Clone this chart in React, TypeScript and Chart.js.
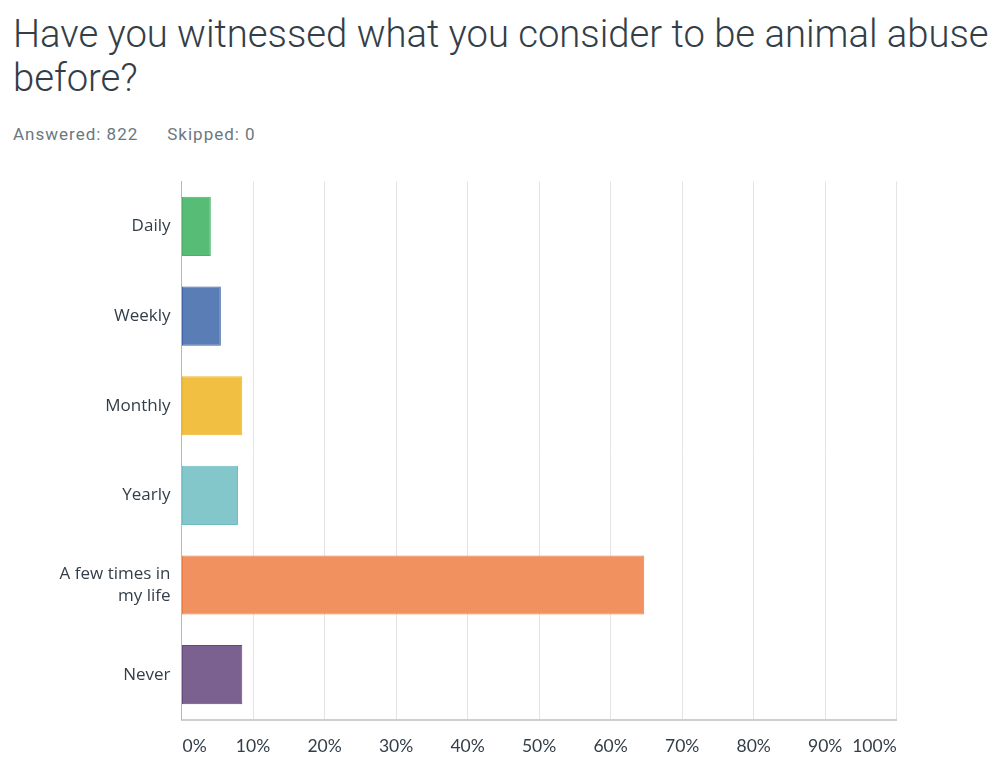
import React, { useEffect, useRef } from "react";
import { Chart, registerables } from "chart.js";

Chart.register(...registerables);

const titleLines = ["Have you witnessed what you consider to be animal abuse", "before?"];
const answeredText = "Answered: 822";
const skippedText = "Skipped: 0";

const categories: (string | string[])[] = ["Daily", "Weekly", "Monthly", "Yearly", ["A few times in", "my life"], "Never"];
const values = [4.1, 5.5, 8.5, 7.9, 64.7, 8.5];
const fillColors = ["#57bd76", "#5a7db6", "#f1c043", "#83c7cb", "#f1915f", "#7a6190"];
const borderColors = ["#4cb06a", "#3f63a6", "#eab532", "#6fbcc1", "#ec7f48", "#634b7c"];
const tickStep = 10;
const tickMax = 100;

const xLabelPlugin = {
  id: "xLabels",
  afterDraw(chart: any) {
    const scale = chart.scales.x;
    const ctx = chart.ctx;
    ctx.save();
    ctx.font = "17.5px Lato";
    ctx.fillStyle = "#333e48";
    ctx.textBaseline = "middle";
    const ticks = scale.ticks;
    const y = chart.chartArea.bottom + 27;
    ticks.forEach((t: any, i: number) => {
      const px = scale.getPixelForValue(t.value);
      const label = `${t.value}%`;
      if (i === 0) {
        ctx.textAlign = "left";
        ctx.fillText(label, px + 1, y);
      } else if (i === ticks.length - 1) {
        ctx.textAlign = "right";
        ctx.fillText(label, px, y);
      } else {
        ctx.textAlign = "center";
        ctx.fillText(label, px, y);
      }
    });
    ctx.restore();
  },
};

export default function App() {
  const canvasRef = useRef<HTMLCanvasElement | null>(null);

  useEffect(() => {
    document.body.style.margin = "0";
    const canvas = canvasRef.current;
    if (!canvas) return;
    const chart = new Chart(canvas, {
      type: "bar",
      data: {
        labels: categories as any,
        datasets: [
          {
            data: values,
            backgroundColor: fillColors,
            borderColor: borderColors,
            borderWidth: 1,
            borderSkipped: false,
            barPercentage: 0.66,
            categoryPercentage: 1,
          },
        ],
      },
      options: {
        indexAxis: "y",
        animation: false,
        responsive: false,
        maintainAspectRatio: false,
        layout: { padding: { top: 20.7, right: 103.3, left: 0, bottom: 0 } },
        plugins: {
          legend: { display: false },
          tooltip: { enabled: false },
          title: { display: false },
        },
        scales: {
          x: {
            min: 0,
            max: tickMax,
            ticks: { stepSize: tickStep, display: false },
            grid: { color: "#e4e4e4", lineWidth: 1, drawTicks: false },
            border: { display: true, color: "#cfcfcf", width: 2 },
            afterFit: (s: any) => {
              s.height = 53.5;
            },
          },
          y: {
            ticks: {
              color: "#333e48",
              font: { family: "'Open Sans'", size: 17, lineHeight: 1.25 },
              padding: 11,
            },
            grid: { display: false, drawTicks: false },
            border: { display: true, color: "#b8b8b8", width: 1 },
            afterFit: (s: any) => {
              s.width = 181.5;
            },
          },
        },
      },
      plugins: [xLabelPlugin],
    });
    return () => chart.destroy();
  }, []);

  return (
    <div style={{ position: "relative", width: 1000, height: 773, overflow: "hidden", background: "#fff" }}>
      <div
        style={{
          position: "absolute",
          left: 13,
          top: 12,
          fontFamily: "Roboto",
          fontWeight: 300,
          fontSize: 39,
          lineHeight: "44px",
          color: "#333e48",
          whiteSpace: "nowrap",
          transform: "scaleX(0.98)",
          transformOrigin: "left top",
        }}
      >
        {titleLines[0]}
        <br />
        {titleLines[1]}
      </div>
      <div
        style={{
          position: "absolute",
          left: 13,
          top: 123,
          fontFamily: "Roboto",
          fontSize: 17,
          lineHeight: "22px",
          letterSpacing: "1px",
          color: "#6b7880",
          whiteSpace: "nowrap",
        }}
      >
        <span>{answeredText}</span>
        <span style={{ marginLeft: 29 }}>{skippedText}</span>
      </div>
      <canvas
        ref={canvasRef}
        width={1000}
        height={613}
        style={{ position: "absolute", left: 0, top: 160, width: 1000, height: 613 }}
      />
    </div>
  );
}
